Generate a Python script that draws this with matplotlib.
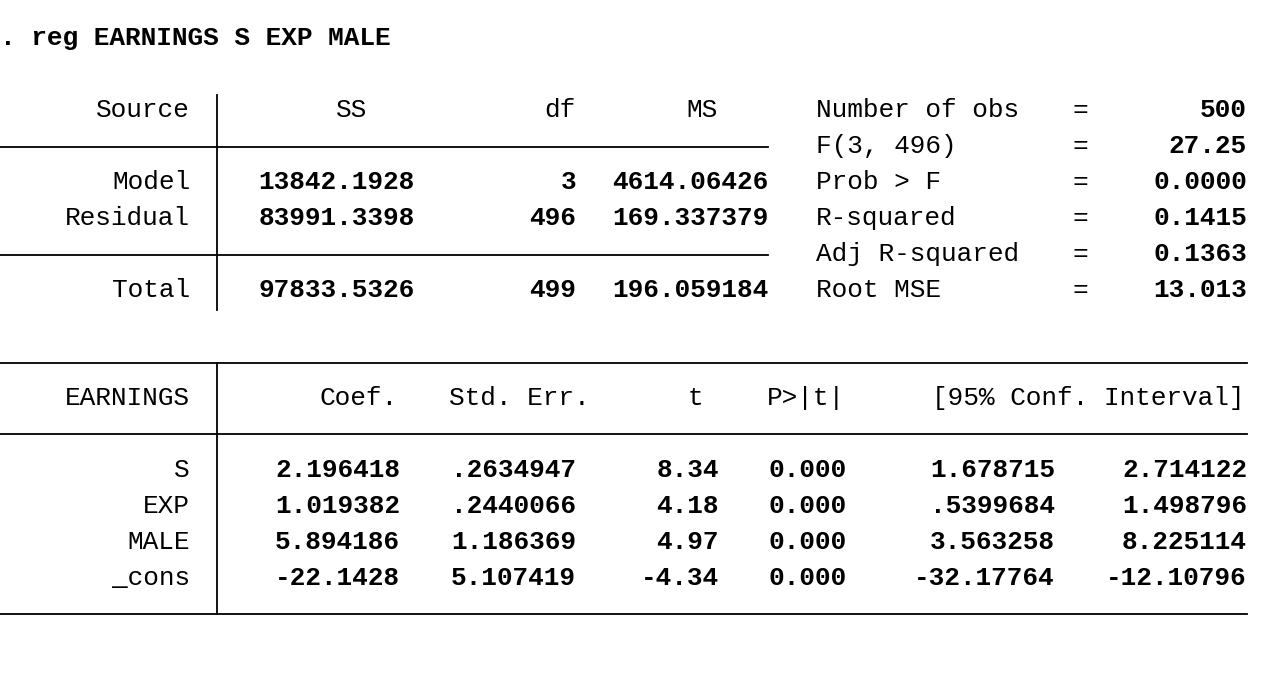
import matplotlib
matplotlib.use("Agg")
import matplotlib.pyplot as plt
from matplotlib.lines import Line2D

W, H = 1286, 676

# ANOVA table
anova_rows = ["Model", "Residual", "Total"]
anova_ss = ["13842.1928", "83991.3398", "97833.5326"]
anova_df = ["3", "496", "499"]
anova_ms = ["4614.06426", "169.337379", "196.059184"]

# Fit statistics
stat_labels = ["Number of obs", "F(3, 496)", "Prob > F", "R-squared", "Adj R-squared", "Root MSE"]
stat_values = ["500", "27.25", "0.0000", "0.1415", "0.1363", "13.013"]

# Coefficient table
coef_vars = ["S", "EXP", "MALE", "_cons"]
coef = ["2.196418", "1.019382", "5.894186", "-22.1428"]
std_err = [".2634947", ".2440066", "1.186369", "5.107419"]
t_vals = ["8.34", "4.18", "4.97", "-4.34"]
p_vals = ["0.000", "0.000", "0.000", "0.000"]
ci_low = ["1.678715", ".5399684", "3.563258", "-32.17764"]
ci_high = ["2.714122", "1.498796", "8.225114", "-12.10796"]

fig = plt.figure(figsize=(W / 100, H / 100), dpi=100)
FS = 18.8
FONT = "Liberation Mono"


def txt(x, y, s, ha="left", bold=False):
    fig.text(x / W, 1 - y / H, s, ha=ha, va="center", fontsize=FS, family=FONT,
             fontweight="bold" if bold else "normal", color="black")


def hline(y, x0, x1):
    fig.add_artist(Line2D([x0 / W, x1 / W], [1 - y / H, 1 - y / H], color="black", lw=1.3))


def vline(x, y0, y1):
    fig.add_artist(Line2D([x / W, x / W], [1 - y0 / H, 1 - y1 / H], color="black", lw=1.3))


txt(0, 38, ". reg EARNINGS S EXP MALE", bold=True)

# ANOVA header
txt(190, 110, "Source", ha="right")
txt(352, 110, "SS", ha="center")
txt(576, 110, "df", ha="right")
txt(718, 110, "MS", ha="right")
hline(147, 0, 768)
hline(255, 0, 768)
vline(217, 95, 310)
for i, y in enumerate([182, 218, 290]):
    txt(190, y, anova_rows[i], ha="right")
    txt(415, y, anova_ss[i], ha="right", bold=True)
    txt(576, y, anova_df[i], ha="right", bold=True)
    txt(768, y, anova_ms[i], ha="right", bold=True)

# Stats panel
for i, (lab, val) in enumerate(zip(stat_labels, stat_values)):
    y = 110 + 36 * i
    txt(816, y, lab)
    txt(1080, y, "=", ha="center")
    txt(1247, y, val, ha="right", bold=True)

# Coefficient table
hline(363, 0, 1247)
hline(434, 0, 1247)
hline(614, 0, 1247)
vline(217, 363, 614)
txt(190, 398, "EARNINGS", ha="right")
for x, h in [(398, "Coef."), (590, "Std. Err."), (703, "t"), (845, "P>|t|"),
             (1245, "[95% Conf. Interval]")]:
    txt(x, 398, h, ha="right")
for i in range(len(coef_vars)):
    y = 470 + 36 * i
    txt(190, y, coef_vars[i], ha="right")
    for x, col in [(400, coef), (576, std_err), (719, t_vals), (847, p_vals),
                   (1055, ci_low), (1247, ci_high)]:
        txt(x, y, col[i], ha="right", bold=True)

fig.savefig("out.png", dpi=100, facecolor="white")
